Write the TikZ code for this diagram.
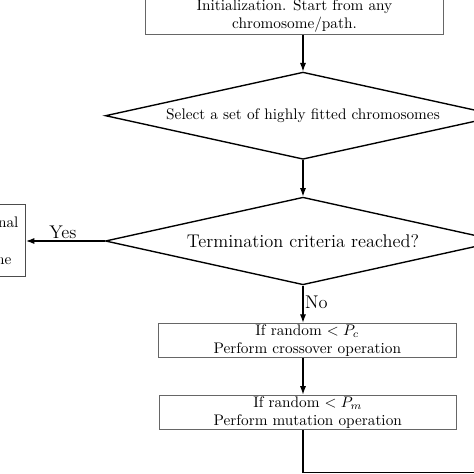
\documentclass[tikz,border=0pt]{standalone}
\usetikzlibrary{shapes.geometric, arrows.meta}

\begin{document}
\begin{tikzpicture}[
    x=0.6536pt, y=-0.6536pt,
    arrowstyle/.style={draw, line width=0.7pt, -{Latex[length=5.5pt, width=4pt]}},
    loopstyle/.style={draw, line width=0.7pt},
    process/.style={rectangle, draw=black!60, line width=0.6pt, inner sep=0pt,
        align=center, minimum width=194.5pt, minimum height=22.6pt},
    decision/.style={diamond, draw, line width=0.9pt, aspect=4.5, inner sep=1pt,
        minimum width=258.3pt, minimum height=57pt},
    final/.style={rectangle, draw=black!70, line width=0.6pt, inner xsep=4.6pt,
        text width=69pt, align=right, minimum height=46.9pt}
]
\useasboundingbox (0,0) rectangle (474,474);
\clip (0,0) rectangle (474,474);

\node (Init) [process, minimum height=23.7pt] at (294.5,16.1)
    {Initialization. Start from any\\chromosome/path.};
\node (Select) [decision] at (303,115.7)
    {Select a set of highly fitted chromosomes};
\node (Termination) [decision, minimum height=57.3pt] at (303,241)
    {\large Termination criteria reached?};
\node (Final) [final, anchor=east] at (26,240.5)
    {nal\\[12pt]ne\rule{4.6pt}{0pt}};
\node (Crossover) [process] at (307.3,340.5)
    {If random $<P_c$\\Perform crossover operation};
\node (Mutation) [process] at (307.8,412.3)
    {If random $<P_m$\\Perform mutation operation};
\coordinate (Back) at (530,472.6);

\draw[arrowstyle] (Init.south -| Select.north) -- (Select.north);
\draw[arrowstyle] (Select.south) -- (Termination.north);
\draw[arrowstyle] (Termination.west) -- node[above, inner sep=1pt, pos=0.53] {\large Yes} (Termination.west -| Final.east);
\draw[arrowstyle] (Termination.south) -- node[right, inner sep=1pt, pos=0.45] {\large No} (Crossover.north -| Termination.south);
\draw[arrowstyle] (Crossover.south -| Termination.south) -- (Mutation.north -| Termination.south);
\draw[loopstyle] (Mutation.south -| Termination.south) |- (Back);

\end{tikzpicture}
\end{document}
